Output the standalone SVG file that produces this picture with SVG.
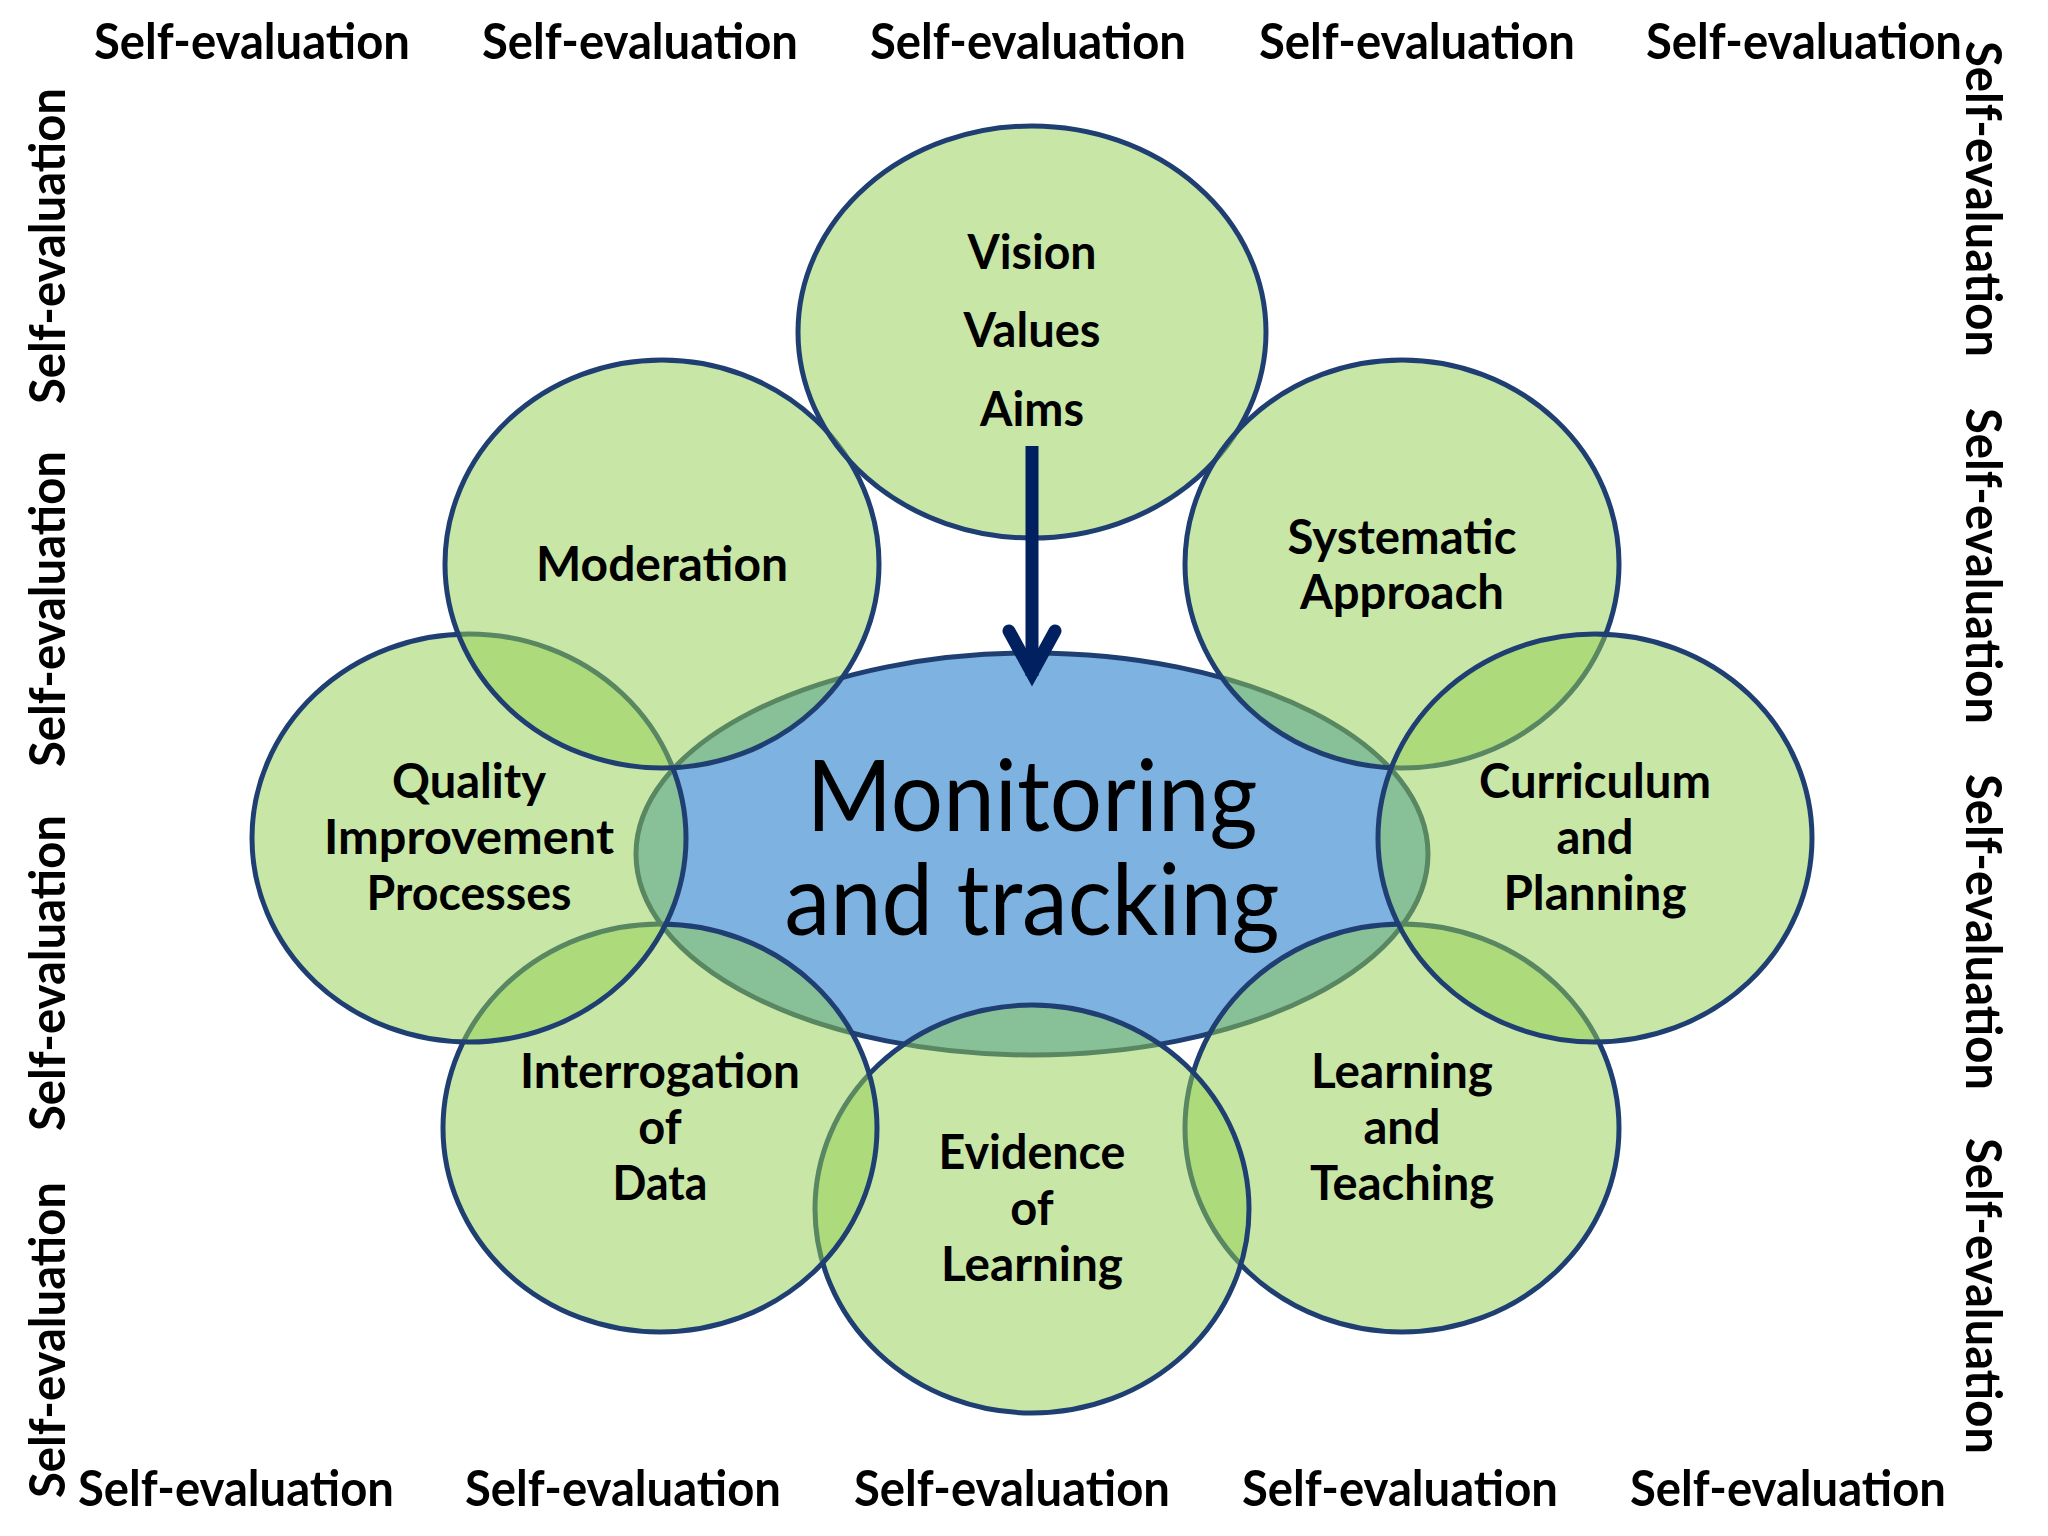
<svg xmlns="http://www.w3.org/2000/svg" width="2048" height="1536" viewBox="0 0 2048 1536">
<defs>
<style>
.bg{fill:#ffffff}
.circ{fill:#92D050;fill-opacity:0.5;stroke:#1F3F73;stroke-width:5}
.core{fill:#7EB2E0;stroke:#1F3F73;stroke-width:5}
.lbl{font-family:Lato,"Liberation Sans",sans-serif;font-weight:700;font-size:47px;fill:#000;text-anchor:middle}
.big{font-family:Lato,"Liberation Sans",sans-serif;font-weight:400;font-size:98px;fill:#000;text-anchor:middle}
.se{font-family:Lato,"Liberation Sans",sans-serif;font-weight:700;font-size:50px;fill:#000;text-anchor:middle}
.arrow{stroke:#002060;stroke-width:13;fill:none}
</style>
</defs>
<rect class="bg" x="0" y="0" width="2048" height="1536"/>

<g id="border-labels">
<text class="se" x="252" y="59" textLength="316" lengthAdjust="spacingAndGlyphs">Self-evaluation</text>
<text class="se" x="640" y="59" textLength="316" lengthAdjust="spacingAndGlyphs">Self-evaluation</text>
<text class="se" x="1028" y="59" textLength="316" lengthAdjust="spacingAndGlyphs">Self-evaluation</text>
<text class="se" x="1417" y="59" textLength="316" lengthAdjust="spacingAndGlyphs">Self-evaluation</text>
<text class="se" x="1804" y="59" textLength="316" lengthAdjust="spacingAndGlyphs">Self-evaluation</text>
<text class="se" x="236" y="1506" textLength="316" lengthAdjust="spacingAndGlyphs">Self-evaluation</text>
<text class="se" x="623" y="1506" textLength="316" lengthAdjust="spacingAndGlyphs">Self-evaluation</text>
<text class="se" x="1012" y="1506" textLength="316" lengthAdjust="spacingAndGlyphs">Self-evaluation</text>
<text class="se" x="1400" y="1506" textLength="316" lengthAdjust="spacingAndGlyphs">Self-evaluation</text>
<text class="se" x="1788" y="1506" textLength="316" lengthAdjust="spacingAndGlyphs">Self-evaluation</text>
<text class="se" transform="translate(65,246) rotate(-90)" textLength="316" lengthAdjust="spacingAndGlyphs">Self-evaluation</text>
<text class="se" transform="translate(65,609) rotate(-90)" textLength="316" lengthAdjust="spacingAndGlyphs">Self-evaluation</text>
<text class="se" transform="translate(65,973) rotate(-90)" textLength="316" lengthAdjust="spacingAndGlyphs">Self-evaluation</text>
<text class="se" transform="translate(65,1340) rotate(-90)" textLength="316" lengthAdjust="spacingAndGlyphs">Self-evaluation</text>
<text class="se" transform="translate(1966,199) rotate(90)" textLength="316" lengthAdjust="spacingAndGlyphs">Self-evaluation</text>
<text class="se" transform="translate(1966,566) rotate(90)" textLength="316" lengthAdjust="spacingAndGlyphs">Self-evaluation</text>
<text class="se" transform="translate(1966,932) rotate(90)" textLength="316" lengthAdjust="spacingAndGlyphs">Self-evaluation</text>
<text class="se" transform="translate(1966,1296) rotate(90)" textLength="316" lengthAdjust="spacingAndGlyphs">Self-evaluation</text>
</g>

<g id="node-monitoring">
<ellipse class="core" cx="1032" cy="854" rx="396" ry="201"/>
<text class="big" x="1032" y="831" textLength="451" lengthAdjust="spacingAndGlyphs">Monitoring</text>
<text class="big" x="1032" y="935" textLength="495" lengthAdjust="spacingAndGlyphs">and tracking</text>
</g>

<g id="node-learning-teaching">
<ellipse class="circ" cx="1402" cy="1128" rx="217" ry="204"/>
<text class="lbl" x="1402" y="1088" textLength="182" lengthAdjust="spacingAndGlyphs">Learning</text>
<text class="lbl" x="1402" y="1144">and</text>
<text class="lbl" x="1402" y="1200" textLength="184" lengthAdjust="spacingAndGlyphs">Teaching</text>
</g>

<g id="node-evidence">
<ellipse class="circ" cx="1032" cy="1209" rx="217" ry="204"/>
<text class="lbl" x="1032" y="1169" textLength="187" lengthAdjust="spacingAndGlyphs">Evidence</text>
<text class="lbl" x="1032" y="1225">of</text>
<text class="lbl" x="1032" y="1281" textLength="182" lengthAdjust="spacingAndGlyphs">Learning</text>
</g>

<g id="node-interrogation">
<ellipse class="circ" cx="660" cy="1128" rx="217" ry="204"/>
<text class="lbl" x="660" y="1088" textLength="280" lengthAdjust="spacingAndGlyphs">Interrogation</text>
<text class="lbl" x="660" y="1144">of</text>
<text class="lbl" x="660" y="1200" textLength="95" lengthAdjust="spacingAndGlyphs">Data</text>
</g>

<g id="node-quality">
<ellipse class="circ" cx="469" cy="838" rx="217" ry="204"/>
<text class="lbl" x="469" y="798" textLength="154" lengthAdjust="spacingAndGlyphs">Quality</text>
<text class="lbl" x="469" y="854" textLength="290" lengthAdjust="spacingAndGlyphs">Improvement</text>
<text class="lbl" x="469" y="910" textLength="205" lengthAdjust="spacingAndGlyphs">Processes</text>
</g>

<g id="node-moderation">
<ellipse class="circ" cx="662" cy="564" rx="217" ry="204"/>
<text class="lbl" x="662" y="581" textLength="252" lengthAdjust="spacingAndGlyphs">Moderation</text>
</g>

<g id="node-vision">
<ellipse class="circ" cx="1032" cy="332" rx="234" ry="206"/>
<text class="lbl" x="1032" y="269" textLength="129" lengthAdjust="spacingAndGlyphs">Vision</text>
<text class="lbl" x="1032" y="347" textLength="137" lengthAdjust="spacingAndGlyphs">Values</text>
<text class="lbl" x="1032" y="426" textLength="104" lengthAdjust="spacingAndGlyphs">Aims</text>
</g>

<g id="node-systematic">
<ellipse class="circ" cx="1402" cy="564" rx="217" ry="204"/>
<text class="lbl" x="1402" y="554" textLength="229" lengthAdjust="spacingAndGlyphs">Systematic</text>
<text class="lbl" x="1402" y="609" textLength="204" lengthAdjust="spacingAndGlyphs">Approach</text>
</g>

<g id="node-curriculum">
<ellipse class="circ" cx="1595" cy="838" rx="217" ry="204"/>
<text class="lbl" x="1595" y="798" textLength="232" lengthAdjust="spacingAndGlyphs">Curriculum</text>
<text class="lbl" x="1595" y="854">and</text>
<text class="lbl" x="1595" y="910" textLength="183" lengthAdjust="spacingAndGlyphs">Planning</text>
</g>

<g id="connectors">
<line class="arrow" x1="1032" y1="446" x2="1032" y2="676"/>
<polyline class="arrow" points="1009,631 1032,673 1055,631" stroke-linejoin="miter" stroke-linecap="round"/>
</g>
</svg>
